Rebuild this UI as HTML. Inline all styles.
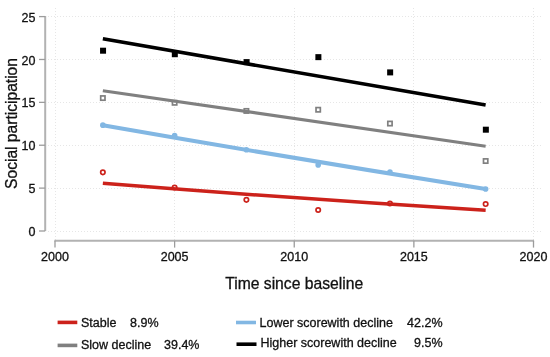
<!DOCTYPE html><html><head><meta charset="utf-8"><style>html,body{margin:0;padding:0;background:#fff;}svg{display:block;}text{font-family:"Liberation Sans",Arial,Helvetica,sans-serif;fill:#111;stroke:#111;stroke-width:0.3px;}</style></head><body>
<svg width="550" height="357" viewBox="0 0 550 357">
<rect width="550" height="357" fill="#fff"/>
<g stroke="#e6e6e6" stroke-width="1" stroke-dasharray="1 2"><line x1="48" y1="231.50" x2="543" y2="231.50"/><line x1="48" y1="188.50" x2="543" y2="188.50"/><line x1="48" y1="145.50" x2="543" y2="145.50"/><line x1="48" y1="102.50" x2="543" y2="102.50"/><line x1="48" y1="59.50" x2="543" y2="59.50"/><line x1="48" y1="16.50" x2="543" y2="16.50"/><line x1="55.50" y1="8" x2="55.50" y2="241"/><line x1="174.50" y1="8" x2="174.50" y2="241"/><line x1="294.50" y1="8" x2="294.50" y2="241"/><line x1="413.50" y1="8" x2="413.50" y2="241"/><line x1="533.50" y1="8" x2="533.50" y2="241"/></g>
<g><line x1="45.2" y1="16.00" x2="45.2" y2="231.00" stroke="#b2b2b2" stroke-width="2"/><line x1="39" y1="231.00" x2="45.2" y2="231.00" stroke="#9c9c9c" stroke-width="1.3"/><line x1="39" y1="188.12" x2="45.2" y2="188.12" stroke="#9c9c9c" stroke-width="1.3"/><line x1="39" y1="145.24" x2="45.2" y2="145.24" stroke="#9c9c9c" stroke-width="1.3"/><line x1="39" y1="102.36" x2="45.2" y2="102.36" stroke="#9c9c9c" stroke-width="1.3"/><line x1="39" y1="59.48" x2="45.2" y2="59.48" stroke="#9c9c9c" stroke-width="1.3"/><line x1="39" y1="16.60" x2="45.2" y2="16.60" stroke="#9c9c9c" stroke-width="1.3"/><line x1="54.40" y1="240.85" x2="534.10" y2="240.85" stroke="#b2b2b2" stroke-width="2"/><line x1="55.00" y1="240.85" x2="55.00" y2="247.6" stroke="#9c9c9c" stroke-width="1.3"/><line x1="174.62" y1="240.85" x2="174.62" y2="247.6" stroke="#9c9c9c" stroke-width="1.3"/><line x1="294.25" y1="240.85" x2="294.25" y2="247.6" stroke="#9c9c9c" stroke-width="1.3"/><line x1="413.88" y1="240.85" x2="413.88" y2="247.6" stroke="#9c9c9c" stroke-width="1.3"/><line x1="533.50" y1="240.85" x2="533.50" y2="247.6" stroke="#9c9c9c" stroke-width="1.3"/></g>
<text x="35.5" y="236.10" text-anchor="end" font-size="12.5">0</text><text x="35.5" y="193.22" text-anchor="end" font-size="12.5">5</text><text x="35.5" y="150.34" text-anchor="end" font-size="12.5">10</text><text x="35.5" y="107.46" text-anchor="end" font-size="12.5">15</text><text x="35.5" y="64.58" text-anchor="end" font-size="12.5">20</text><text x="35.5" y="21.70" text-anchor="end" font-size="12.5">25</text><text x="55.00" y="260.9" text-anchor="middle" font-size="12.5">2000</text><text x="174.62" y="260.9" text-anchor="middle" font-size="12.5">2005</text><text x="294.25" y="260.9" text-anchor="middle" font-size="12.5">2010</text><text x="413.88" y="260.9" text-anchor="middle" font-size="12.5">2015</text><text x="533.50" y="260.9" text-anchor="middle" font-size="12.5">2020</text>
<text transform="translate(16.8,123.5) rotate(-90)" text-anchor="middle" font-size="15.6">Social participation</text>
<text x="294.2" y="289.3" text-anchor="middle" font-size="15.7">Time since baseline</text>
<path d="M102.85 38.85Q294.25 71.16 485.65 105.05" fill="none" stroke="#000000" stroke-width="3.6"/>
<line x1="102.85" y1="90.78" x2="485.65" y2="146.27" stroke="#808080" stroke-width="3.2"/>
<path d="M102.85 125.20Q294.25 158.62 485.65 188.96" fill="none" stroke="#82b7e3" stroke-width="4.0"/>
<path d="M102.85 183.29Q294.25 198.58 485.65 210.20" fill="none" stroke="#cc221b" stroke-width="3.6"/>
<rect x="100.05" y="47.70" width="6" height="6" fill="#000"/><rect x="171.82" y="51.22" width="6" height="6" fill="#000"/><rect x="243.60" y="59.11" width="6" height="6" fill="#000"/><rect x="315.38" y="54.14" width="6" height="6" fill="#000"/><rect x="387.15" y="69.40" width="6" height="6" fill="#000"/><rect x="482.85" y="126.69" width="6" height="6" fill="#000"/><rect x="100.70" y="95.92" width="4.3" height="4.3" fill="none" stroke="#808080" stroke-width="1.7"/><rect x="172.47" y="100.64" width="4.3" height="4.3" fill="none" stroke="#808080" stroke-width="1.7"/><rect x="244.25" y="108.79" width="4.3" height="4.3" fill="none" stroke="#808080" stroke-width="1.7"/><rect x="316.03" y="107.59" width="4.3" height="4.3" fill="none" stroke="#808080" stroke-width="1.7"/><rect x="387.80" y="121.39" width="4.3" height="4.3" fill="none" stroke="#808080" stroke-width="1.7"/><rect x="483.50" y="158.87" width="4.3" height="4.3" fill="none" stroke="#808080" stroke-width="1.7"/><circle cx="102.85" cy="125.17" r="2.8" fill="#82b7e3"/><circle cx="174.62" cy="135.46" r="2.8" fill="#82b7e3"/><circle cx="246.40" cy="149.79" r="2.8" fill="#82b7e3"/><circle cx="318.18" cy="164.88" r="2.8" fill="#82b7e3"/><circle cx="389.95" cy="172.17" r="2.8" fill="#82b7e3"/><circle cx="485.65" cy="188.98" r="2.8" fill="#82b7e3"/><circle cx="102.85" cy="172.34" r="2.2" fill="none" stroke="#cc221b" stroke-width="1.7"/><circle cx="174.62" cy="187.52" r="2.2" fill="none" stroke="#cc221b" stroke-width="1.7"/><circle cx="246.40" cy="199.87" r="2.2" fill="none" stroke="#cc221b" stroke-width="1.7"/><circle cx="318.18" cy="209.99" r="2.2" fill="none" stroke="#cc221b" stroke-width="1.7"/><circle cx="389.95" cy="203.56" r="2.2" fill="none" stroke="#cc221b" stroke-width="1.7"/><circle cx="485.65" cy="204.07" r="2.2" fill="none" stroke="#cc221b" stroke-width="1.7"/>
<line x1="57.6" y1="322.4" x2="77.3" y2="322.4" stroke="#cc221b" stroke-width="3.6"/><line x1="57.6" y1="345.4" x2="77.3" y2="345.4" stroke="#808080" stroke-width="3.6"/><line x1="236" y1="322.5" x2="256" y2="322.5" stroke="#82b7e3" stroke-width="3.6"/><line x1="236.5" y1="344.2" x2="256.5" y2="344.2" stroke="#000" stroke-width="3.6"/><text x="81" y="327.4" font-size="12.5">Stable</text><text x="130" y="327.4" font-size="12.5">8.9%</text><text x="81" y="348.5" font-size="12.5">Slow decline</text><text x="164" y="348.5" font-size="12.5">39.4%</text><text x="259.5" y="327.4" font-size="12.5">Lower scorewith decline</text><text x="442.5" y="327.4" text-anchor="end" font-size="12.5">42.2%</text><text x="260.5" y="346.5" font-size="12.5">Higher scorewith decline</text><text x="442.5" y="346.5" text-anchor="end" font-size="12.5">9.5%</text>
</svg></body></html>
